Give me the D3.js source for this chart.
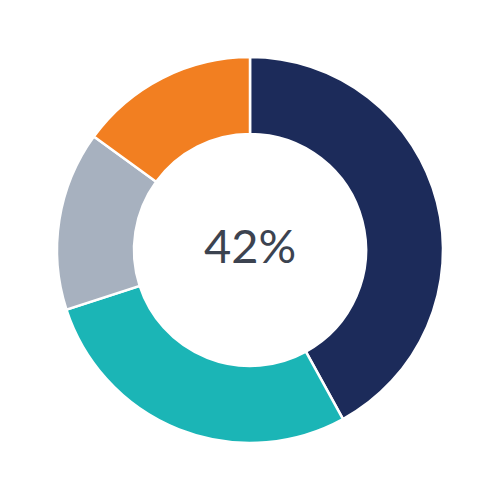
<!DOCTYPE html>
<html>
<head>
<meta charset="utf-8">
<script src="https://cdn.jsdelivr.net/npm/d3@7"></script>
<style>
  html, body { margin: 0; padding: 0; background: #fff; }
</style>
</head>
<body>
<svg id="chart" width="500" height="500"></svg>
<script>
const categories = ["A", "B", "C", "D"];
const values = [42, 28, 15, 15];
const colors = ["#1c2b5a", "#1bb5b6", "#a7b1bf", "#f27f21"];
const centerLabel = "42%";

const svg = d3.select("#chart");
const g = svg.append("g").attr("transform", "translate(250,250)");

const pie = d3.pie().sort(null).value(d => d.value);
const arc = d3.arc().innerRadius(116).outerRadius(193);

const data = categories.map((c, i) => ({ cat: c, value: values[i] }));
const color = d3.scaleOrdinal().domain(categories).range(colors);

g.selectAll("path")
  .data(pie(data))
  .join("path")
  .attr("d", arc)
  .attr("fill", d => color(d.data.cat))
  .attr("stroke", "#fff")
  .attr("stroke-width", 2.5);

g.append("text")
  .attr("x", 0)
  .attr("y", 13)
  .attr("text-anchor", "middle")
  .attr("font-family", "Lato, 'Open Sans', sans-serif")
  .attr("font-size", 47)
  .attr("fill", "#3c4350")
  .text(centerLabel);
</script>
</body>
</html>
